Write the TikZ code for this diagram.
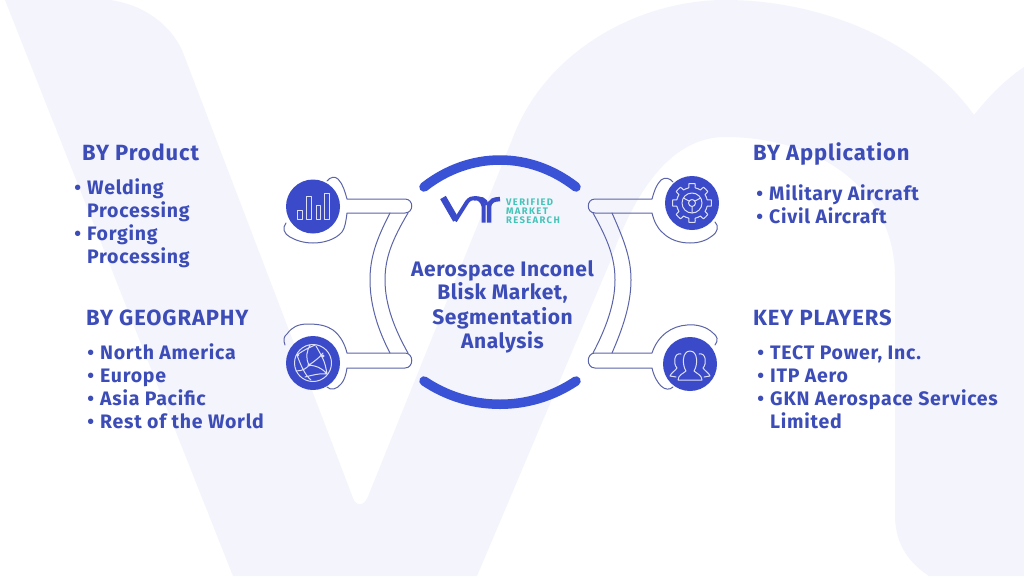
\documentclass[tikz,border=0pt]{standalone}
\usepackage{fontspec}
\setmainfont{Fira Sans}
\definecolor{bgv}{HTML}{F3F4FC}
\definecolor{ink}{HTML}{3D4DB8}
\definecolor{disc}{HTML}{3A4AC9}
\definecolor{wire}{HTML}{5C64A8}
\definecolor{arcb}{HTML}{3A52D6}
\definecolor{teal}{HTML}{45C4B8}
\definecolor{icon}{HTML}{DDE0F5}
\tikzset{
 head/.style={anchor=base west,inner sep=0,text=ink,font=\fontsize{22}{25}\selectfont\addfontfeatures{LetterSpace=4}\bfseries},
 item/.style={anchor=base west,inner sep=0,text=ink,font=\fontsize{19.5}{23}\selectfont\addfontfeatures{LetterSpace=3.8}\bfseries},
 title/.style={anchor=base,inner sep=0,text=ink,font=\fontsize{21}{24}\selectfont\addfontfeatures{LetterSpace=2.6}\bfseries},
 brand/.style={anchor=base west,inner sep=0,text=teal,font=\fontsize{9.5}{10}\selectfont\addfontfeatures{LetterSpace=14}\bfseries},
 wireline/.style={draw=wire,line width=1pt,line cap=round,line join=round},
 iconline/.style={draw=icon,line width=1pt,line join=round,line cap=round},
 discnode/.style={circle,fill=disc,minimum size=54pt,inner sep=0},
 bigarc/.style={draw=arcb,line width=9.5pt,line cap=round},
}
\newcommand{\bul}{\makebox[0pt][r]{\raisebox{0pt}{•}\hspace{6pt}}}
\begin{document}
\begin{tikzpicture}[x=1pt,y=-1pt]
\useasboundingbox (0,0) rectangle (1024,576);
\fill[white] (0,0) rectangle (1024,576);
% watermark
\fill[bgv] (5,0) -- (110,0) .. controls (145,5) and (170,25) .. (182,50) -- (353,498)
  .. controls (356,507) and (365,507) .. (369,494) -- (512,140)
  .. controls (545,50) and (640,0) .. (725,0)
  .. controls (820,0) and (920,40) .. (974,115)
  .. controls (990,95) and (1005,80) .. (1024,67) -- (1024,576) -- (929,576)
  .. controls (905,560) and (895,540) .. (895,515) -- (895,277)
  .. controls (895,190) and (820,137) .. (725,137)
  .. controls (680,137) and (640,175) .. (610,262) -- (477,576) -- (233,576) -- cycle;
% big arcs
\draw[bigarc] (424,187) .. controls (470,151) and (530,151) .. (576,187);
\draw[bigarc] (424,381) .. controls (470,412) and (530,412) .. (576,381);
% discs
\node[discnode] (d1) at (313,206.5) {};
\node[discnode] (d2) at (313,363) {};
\node[discnode] (d3) at (692,203) {};
\node[discnode] (d4) at (690,364) {};
% left wires
\draw[wireline] (327,181) .. controls (330,177) and (335,176) .. (338,179)
  .. controls (343,184) and (345,192) .. (347,199) -- (405,199)
  .. controls (414,199) and (414,213) .. (405,213) -- (347,213)
  .. controls (346,221) and (345,228) .. (342,232)
  .. controls (335,240) and (323,243) .. (313,243)
  .. controls (303,243) and (295,240) .. (290,237)
  .. controls (284,234) and (282,228) .. (286,223);
\draw[wireline] (285,345) .. controls (283,340) and (284,336) .. (287,334)
  .. controls (292,327) and (298,324) .. (308,324)
  .. controls (320,324) and (327,326) .. (333,330)
  .. controls (341,336) and (345,345) .. (347,353) -- (405,353)
  .. controls (414,353) and (414,368) .. (405,368) -- (347,368)
  .. controls (346,375) and (344,381) .. (341,384)
  .. controls (337,389) and (331,391) .. (327,387);
\draw[wireline] (408,213) .. controls (392,240) and (385,258) .. (385,280) .. controls (385,305) and (395,330) .. (408,353);
\draw[wireline] (390,213) .. controls (376,240) and (370,258) .. (370,280) .. controls (370,305) and (378,330) .. (390,353);
% right wires
\draw[wireline] (673,182) .. controls (670,178) and (665,177) .. (661,180)
  .. controls (656,185) and (654,192) .. (652,199) -- (595,199)
  .. controls (586,199) and (586,213) .. (595,213) -- (652,213)
  .. controls (654,221) and (657,228) .. (663,233)
  .. controls (670,240) and (680,243) .. (690,243)
  .. controls (700,243) and (707,240) .. (712,236)
  .. controls (718,232) and (719,226) .. (715,222);
\draw[wireline] (715,345) .. controls (719,340) and (717,336) .. (713,333)
  .. controls (707,327) and (697,324) .. (687,325)
  .. controls (672,326) and (658,335) .. (652,353) -- (595,353)
  .. controls (586,353) and (586,368) .. (595,368) -- (652,368)
  .. controls (654,377) and (658,383) .. (661,386)
  .. controls (665,390) and (670,390) .. (673,387);
\draw[wireline] (593,213) .. controls (608,240) and (615,258) .. (615,280) .. controls (615,305) and (605,330) .. (593,353);
\draw[wireline] (612,213) .. controls (624,240) and (631,258) .. (631,280) .. controls (631,305) and (622,330) .. (612,353);
% bar icon
\draw[iconline] (297,210) rectangle (302,219) (306,196) rectangle (311,219) (316,205) rectangle (320,219) (324,193) rectangle (329,219);
% globe icon
\begin{scope}[shift={(313,363)}]
\draw[iconline] (0,0) circle (18.5);
\draw[iconline] (-16,-8) .. controls (-8,-14) and (-2,-16) .. (2,-18)
  (-16,-8) .. controls (-12,3) and (-8,12) .. (-2,17)
  (-4,2) .. controls (-8,-6) and (-6,-12) .. (-3,-18)
  (-4,2) .. controls (3,3) and (8,4) .. (14,11)
  (-17,8) .. controls (-10,8) and (-6,5) .. (-4,2)
  (-4,2) .. controls (2,-2) and (7,-6) .. (10,-10)
  (3,-17) .. controls (6,-12) and (8,-8) .. (10,-4) .. controls (12,0) and (13,5) .. (14,11)
  (-8,14) .. controls (0,12) and (8,10) .. (14,11);
\fill[icon] (-4,2) circle (1.7) (10,-7) circle (1.7) (-15,-8) circle (1.3) (13,10) circle (1.3);
\end{scope}
% gear icon
\begin{scope}[shift={(692,203)}]
\draw[iconline] (10,0) arc[start angle=0,end angle=360,radius=10];
\draw[iconline] (3.5,0) arc[start angle=0,end angle=360,radius=3.5];
\draw[iconline] (0,3.5) -- (0,10) (-3,-2) -- (-8.6,-5) (3,-2) -- (8.6,-5);
\foreach \a in {0,45,...,315}{
 \draw[iconline] (\a-22.5:15.5) arc[start angle=\a-22.5,end angle=\a-12,radius=15.5]
   .. controls (\a-11:17.5) and (\a-10:18.5) .. (\a-9:19.5)
   arc[start angle=\a-9,end angle=\a+9,radius=19.5]
   .. controls (\a+10:18.5) and (\a+11:17.5) .. (\a+12:15.5)
   arc[start angle=\a+12,end angle=\a+22.5,radius=15.5];
}
\end{scope}
% people icon
\draw[iconline] (678,380) -- (702,380) .. controls (702,375) and (696,373) .. (694,371)
  .. controls (698,365) and (698,351) .. (690,351) .. controls (682,351) and (682,365) .. (686,371)
  .. controls (684,373) and (678,375) .. (678,380);
\draw[iconline] (681,354) .. controls (674,352) and (673,364) .. (677,368) .. controls (675,371) and (671,373) .. (670,376) -- (676,377);
\draw[iconline] (699,354) .. controls (706,352) and (707,364) .. (703,368) .. controls (705,371) and (709,373) .. (710,376) -- (704,377);
% logo
\draw[draw=disc,line width=6.5pt,line join=round] (443,197.5) -- (456,220);
\draw[draw=disc,line width=4pt,line join=round] (455,221) -- (467,202) .. controls (471,196) and (481,196) .. (483.5,206) -- (483.5,222.5);
\draw[draw=disc,line width=4.5pt] (489,222.5) -- (489,207) .. controls (490,200) and (494,199.5) .. (500,199);
\draw[draw=disc,line width=3.5pt] (474,199) .. controls (480,197) and (486,199) .. (487,205);
\node[brand] (b1) at (506,205) {VERIFIED};
\node[brand] (b2) at (506,214) {MARKET};
\node[brand] (b3) at (506,223) {RESEARCH};
% centre title
\node[title] (t1) at (502.5,276) {Aerospace Inconel};
\node[title] (t2) at (502.5,299.5) {Blisk Market,};
\node[title] (t3) at (502.5,324) {Segmentation};
\node[title] (t4) at (502.5,348.5) {Analysis};
% headings
\node[head] (h1) at (82,160) {BY Product};
\node[head] (h2) at (86,325) {BY GEOGRAPHY};
\node[head] (h3) at (753,160) {BY Application};
\node[head] (h4) at (753,325) {KEY PLAYERS};
% lists
\node[item] (a1) at (87,194) {\parbox[t]{120pt}{\raggedright\bul Welding\\Processing}};
\node[item] (a2) at (87,240) {\parbox[t]{120pt}{\raggedright\bul Forging\\Processing}};
\node[item] (g1) at (100,359) {\bul North America};
\node[item] (g2) at (100,382) {\bul Europe};
\node[item] (g3) at (100,405) {\bul Asia Pacific};
\node[item] (g4) at (100,428) {\bul Rest of the World};
\node[item] (p1) at (769,200) {\bul Military Aircraft};
\node[item] (p2) at (769,223) {\bul Civil Aircraft};
\node[item] (k1) at (770,359) {\bul TECT Power, Inc.};
\node[item] (k2) at (770,382) {\bul ITP Aero};
\node[item] (k3) at (770,405) {\parbox[t]{240pt}{\raggedright\bul GKN Aerospace Services\\Limited}};
\end{tikzpicture}
\end{document}
